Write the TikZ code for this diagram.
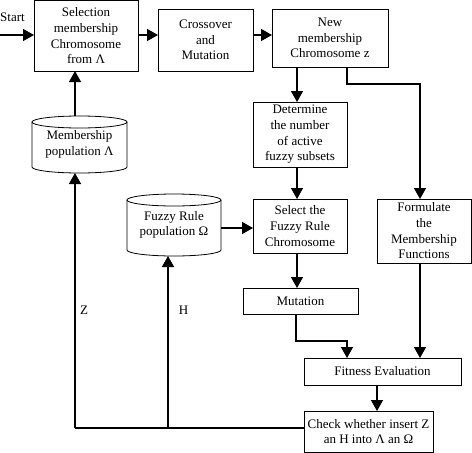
\documentclass[tikz,border=0pt]{standalone}
\usepackage{fontspec}
\setmainfont{Liberation Serif}
\usetikzlibrary{arrows.meta}
\tikzset{
  boxline/.style={draw=black, line width=0.8pt},
  stepbox/.style={boxline, rectangle, inner sep=0pt, outer sep=0pt, align=center,
    font=\fontsize{13}{15.7}\selectfont},
  cylbox/.style={rectangle, inner sep=0pt, outer sep=0pt, align=center,
    font=\fontsize{13}{15.7}\selectfont},
  conn/.style={line width=1.4pt},
  arr/.style={conn, -{Triangle[length=11pt,width=12pt]}},
  lbl/.style={font=\fontsize{13}{15.7}\selectfont, inner sep=0pt}
}
\newcommand\cylout[2]{%
  \draw[boxline] ([yshift=-6pt]#1.north) ellipse [x radius=#2, y radius=6pt];
  \draw[boxline] ([yshift=-6pt]#1.north west) -- ([yshift=6pt]#1.south west)
    arc[start angle=180, end angle=360, x radius=#2, y radius=6pt]
    -- ([yshift=-6pt]#1.north east);}
\begin{document}
\begin{tikzpicture}[x=1pt,y=-1pt]
\useasboundingbox (0,0) rectangle (472,453);
% boxes
\node[stepbox, minimum width=104pt, minimum height=70.5pt] (b1) at (86,35.8) {Selection\\membership\\Chromosome\\from Λ};
\node[stepbox, minimum width=95pt, minimum height=62pt] (b2) at (205.5,40) {Crossover\\and\\Mutation};
\node[stepbox, minimum width=116pt, minimum height=58pt] (b3) at (330,38) {New\\membership\\Chromosome z};
\node[stepbox, minimum width=94pt, minimum height=65pt] (b4) at (300,134.5) {Determine\\the number\\of active\\fuzzy subsets};
\node[stepbox, minimum width=94pt, minimum height=54pt] (b5) at (300,226) {Select the\\Fuzzy Rule\\Chromosome};
\node[stepbox, minimum width=94pt, minimum height=64pt] (b6) at (424,231) {Formulate\\the\\Membership\\Functions};
\node[stepbox, minimum width=115pt, minimum height=26pt] (mut) at (300.5,301) {Mutation};
\node[stepbox, minimum width=157pt, minimum height=27pt] (fit) at (382.5,371.5) {Fitness Evaluation};
\node[stepbox, minimum width=129pt, minimum height=41pt] (chk) at (368.5,431.5) {Check whether insert Z\\an H into Λ an Ω};
% cylinders
\node[cylbox, minimum width=95pt, minimum height=57pt] (c1) at (79.5,144.5) {Membership\\population Λ};
\cylout{c1}{47.5pt}
\node[cylbox, minimum width=94pt, minimum height=62pt] (c2) at (174,225) {Fuzzy Rule\\population Ω};
\cylout{c2}{47pt}
% start
\node[lbl, anchor=west] (st) at (0,17) {Start};
\coordinate (s0) at (0,35);
\draw[arr] (s0) -- (b1.west |- s0);
% top row
\draw[arr] (b1.east |- 0,35) -- (b2.west |- 0,35);
\draw[arr] (b2.east |- 0,35) -- (b3.west |- 0,35);
% right side
\draw[arr] (b3.south -| 297,0) -- (b4.north -| 297,0);
\draw[arr] (b3.south -| 347,0) |- (420,84) -- (b6.north -| 420,0);
\draw[arr] (b4.south -| 297,0) -- (b5.north -| 297,0);
\draw[arr] (c2.east |- 0,228) -- (b5.west |- 0,228);
\draw[arr] (b5.south -| 297,0) -- (mut.north -| 297,0);
\draw[arr] (mut.south -| 296,0) |- (347,341) -- (fit.north -| 347,0);
\draw[arr] (b6.south -| 420,0) -- (fit.north -| 420,0);
\draw[arr] (fit.south -| 377,0) -- (chk.north -| 377,0);
% feedback
\coordinate (jz) at (75,428);
\coordinate (jh) at (168,428);
\draw[conn] (chk.west |- jz) -- (jz);
\draw[arr] (jz) -- (c1.south -| jz);
\draw[arr] (jh) -- (c2.south -| jh);
\draw[arr] (c1.north -| 75,0) -- (b1.south -| 75,0);
\node[lbl] (z) at (84,310) {Z};
\node[lbl] (h) at (183.5,310) {H};
\end{tikzpicture}
\end{document}
